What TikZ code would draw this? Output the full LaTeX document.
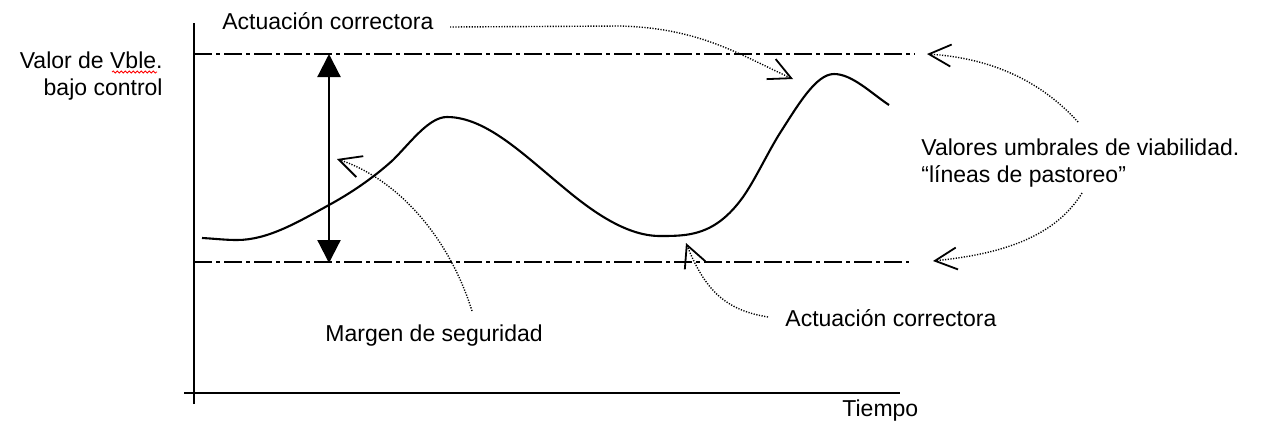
\documentclass[tikz,border=0pt]{standalone}
\usepackage{fontspec}
\setmainfont{Liberation Sans}
\usetikzlibrary{arrows.meta,decorations.pathmorphing}
\begin{document}
\begin{tikzpicture}[x=0.5pt,y=-0.5pt,
  every node/.style={inner sep=0pt, font=\fontsize{11.5pt}{13.5pt}\selectfont},
  axis/.style={line width=1.1pt},
  limit/.style={line width=1.1pt, dash pattern=on 9pt off 2pt on 2pt off 2pt},
  curve/.style={line width=1.05pt},
  note/.style={line width=0.7pt, dash pattern=on 0.6pt off 0.75pt,
    -{Straight Barb[length=11pt,width=11pt,line width=0.9pt]}},
  margin/.style={line width=1.1pt,
    {Triangle[length=11.5pt,width=11.5pt]}-{Triangle[length=11.5pt,width=11.5pt]}},
  spell/.style={red, line width=0.4pt, decorate,
    decoration={snake, amplitude=0.5pt, segment length=2pt}}
]
\useasboundingbox (0,0) rectangle (1283,424);

% axes
\coordinate (yTop) at (194,23);
\coordinate (yBot) at (194,404);
\coordinate (xL) at (184,393);
\coordinate (xR) at (900,393);
\draw[axis] (yBot) -- (yTop);
\draw[axis] (xL) -- (xR);

% threshold lines
\coordinate (uL) at (194,54);
\coordinate (uR) at (915,54);
\coordinate (lL) at (194,262);
\coordinate (lR) at (909,262);
\draw[limit] (uL) -- (uR);
\draw[limit] (lL) -- (lR);

% safety margin arrow
\coordinate (mT) at (329,54);
\coordinate (mB) at (329,263);
\draw[margin] (mT) -- (mB);

% variable curve
\draw[curve] (202,238)
  .. controls (214,238.6) and (225,240) .. (237,240)
  .. controls (268,240) and (298,222) .. (329,205)
  .. controls (350,193.5) and (372,179) .. (393,160)
  .. controls (411,142) and (429,117) .. (447,117)
  .. controls (486,117) and (524,155) .. (563,187)
  .. controls (595,214) and (628,236) .. (660,236)
  .. controls (688,236) and (715,236) .. (743,197)
  .. controls (755,180) and (768,152) .. (780,133)
  .. controls (798,105) and (816,74) .. (834,74)
  .. controls (852,74) and (871,93) .. (889,105);

% labels
\node[anchor=base west] (tTop) at (222,29) {Actuación correctora};
\node[anchor=base west] (tBot) at (785,326) {Actuación correctora};
\node[anchor=base west] (tMar) at (325,341) {Margen de seguridad};
\node[anchor=base west] (tTime) at (842,416) {Tiempo};
\node[anchor=base east, align=right] (tVal) at (163,95) {Valor de Vble.\\bajo control};
\node[anchor=base west, align=left] (tUmb) at (921,182) {Valores umbrales de viabilidad.\\“líneas de pastoreo”};
\draw[spell] (112,72) -- (157,72);

% dotted pointer arrows
\coordinate (aTopS) at (450,27);
\coordinate (aTopT) at (793,79);
\draw[note] (aTopS) -- (620,26) .. controls (700,28) and (740,55) .. (aTopT);

\coordinate (aMarS) at (472,311);
\coordinate (aMarT) at (337,159);
\draw[note] (aMarS) .. controls (450,240) and (400,180) .. (aMarT);

\coordinate (aBotS) at (768,317);
\coordinate (aBotT) at (686,243);
\draw[note] (aBotS) .. controls (725,310) and (705,290) .. (aBotT);

\coordinate (aU1S) at (1078,122);
\coordinate (aU1T) at (927,54);
\draw[note] (aU1S) .. controls (1040,80) and (990,58) .. (aU1T);

\coordinate (aU2S) at (1082,193);
\coordinate (aU2T) at (933,261);
\draw[note] (aU2S) .. controls (1052,242) and (990,255) .. (aU2T);
\end{tikzpicture}
\end{document}
